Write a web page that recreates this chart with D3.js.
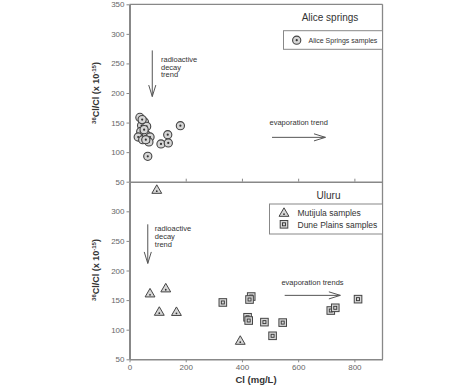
<!DOCTYPE html>
<html>
<head>
<meta charset="utf-8">
<script src="https://cdn.jsdelivr.net/npm/d3@7"></script>
<style>
  body { margin: 0; background: #fff; }
  svg { font-family: "Liberation Sans", Arial, sans-serif; }
  .axis text { font-size: 8px; fill: #666; }
  .axis path, .axis line { stroke: #888; }
</style>
</head>
<body>
<div id="chart"></div>
<script>
// Alice springs samples (Cl mg/L, 36Cl/Cl x 10^-15)
const aliceX = [37, 53, 43, 61, 40, 55, 31, 47, 61, 73, 69, 112, 136, 138, 181, 65, 45, 52, 58];
const aliceY = [158.7, 151, 145, 143.5, 135, 132.4, 125.6, 121, 128.3, 125.6, 117.2, 113.8, 129.5, 115.5, 144.7, 92.9, 155, 138, 121];

// Uluru samples
const mutijulaX = [97, 73, 129, 106, 167, 394];
const mutijulaY = [336, 161, 169.5, 130, 129.7, 81];
const duneX = [332, 433, 427, 420, 424, 480, 545, 509, 716, 732, 813];
const duneY = [146, 156, 151, 121, 115.5, 112.8, 112, 89.7, 132.4, 137, 151.6];

const xTicks = [0, 200, 400, 600, 800];
const yTicksTop = [50, 100, 150, 200, 250, 300, 350];
const yTicksBottom = [50, 100, 150, 200, 250, 300];

const WIDTH = 474, HEIGHT = 389;
const LEFT = 129.5, RIGHT = 382.5;
const TOP = 4.3, MID = 181.7, BOTTOM = 359.3;

const svg = d3.select("#chart").append("svg")
  .attr("width", WIDTH).attr("height", HEIGHT);

const X_SCALE = d3.scaleLinear().domain([0, 900]).range([LEFT, RIGHT]);
const Y_TOP = d3.scaleLinear().domain([50, 350]).range([MID, TOP]);
const Y_BOT = d3.scaleLinear().domain([50, 350]).range([BOTTOM, MID]);

const LINE = "#888";
const INK = "#333";

// frame: top and right borders
svg.append("line").attr("x1", LEFT).attr("x2", RIGHT).attr("y1", TOP).attr("y2", TOP)
  .attr("stroke", LINE).attr("stroke-width", 1.3);
svg.append("line").attr("x1", RIGHT).attr("x2", RIGHT).attr("y1", TOP).attr("y2", BOTTOM)
  .attr("stroke", LINE).attr("stroke-width", 1.3);

// y axes
function styleAxis(g) {
  g.attr("class", "axis");
  g.select(".domain").attr("stroke-width", 2);
}
svg.append("g").attr("transform", "translate(" + LEFT + ",0)")
  .call(d3.axisLeft(Y_TOP).tickValues(yTicksTop).tickSize(3).tickSizeOuter(0).tickPadding(2))
  .call(styleAxis);
svg.append("g").attr("transform", "translate(" + LEFT + ",0)")
  .call(d3.axisLeft(Y_BOT).tickValues(yTicksBottom).tickSize(3).tickSizeOuter(0).tickPadding(2))
  .call(styleAxis);

// middle axis: ticks pointing up into the top panel, no labels
svg.append("g").attr("transform", "translate(0," + MID + ")")
  .call(d3.axisTop(X_SCALE).tickValues(xTicks.slice(1)).tickSize(3).tickSizeOuter(0).tickFormat(""))
  .call(g => { g.attr("class", "axis"); g.select(".domain").attr("stroke-width", 1.5); });

// bottom x axis
svg.append("g").attr("transform", "translate(0," + BOTTOM + ")")
  .call(d3.axisBottom(X_SCALE).tickValues(xTicks).tickSize(3).tickSizeOuter(0).tickPadding(2))
  .call(g => { g.attr("class", "axis"); g.select(".domain").attr("stroke-width", 1.5); });

// axis titles
function yTitle(cy) {
  const t = svg.append("text")
    .attr("transform", "translate(99," + cy + ") rotate(-90)")
    .attr("text-anchor", "middle")
    .attr("font-size", "9px").attr("font-weight", "bold").attr("fill", INK);
  t.append("tspan").attr("font-size", "6px").attr("dy", "-3").text("36");
  t.append("tspan").attr("dy", "3").text("Cl/Cl (x 10");
  t.append("tspan").attr("font-size", "6px").attr("dy", "-3").text("-15");
  t.append("tspan").attr("dy", "3").text(")");
}
yTitle(93);
yTitle(270);

svg.append("text").attr("x", 256).attr("y", 383)
  .attr("text-anchor", "middle").attr("font-size", "9.5px").attr("font-weight", "bold")
  .attr("fill", INK).text("Cl (mg/L)");

// markers
function circleMark(g, x, y) {
  g.append("circle").attr("cx", x).attr("cy", y).attr("r", 4.1)
    .attr("fill", "#d6d6d6").attr("stroke", "#444").attr("stroke-width", 1.1);
  g.append("circle").attr("cx", x).attr("cy", y).attr("r", 1.1).attr("fill", "#333");
}
function triangleMark(g, x, y) {
  g.append("path").attr("d", d3.symbol(d3.symbolTriangle, 42)())
    .attr("transform", "translate(" + x + "," + (y + 0.5) + ")")
    .attr("fill", "#d6d6d6").attr("stroke", "#444").attr("stroke-width", 1);
  g.append("circle").attr("cx", x).attr("cy", y + 1.2).attr("r", 0.9).attr("fill", "#333");
}
function squareMark(g, x, y) {
  g.append("rect").attr("x", x - 3.8).attr("y", y - 3.8).attr("width", 7.6).attr("height", 7.6)
    .attr("fill", "#d6d6d6").attr("stroke", "#444").attr("stroke-width", 1);
  g.append("rect").attr("x", x - 1.5).attr("y", y - 1.5).attr("width", 3).attr("height", 3)
    .attr("fill", "none").attr("stroke", "#333").attr("stroke-width", 0.9);
}

const pts = svg.append("g");
aliceX.forEach((v, i) => circleMark(pts, X_SCALE(v), Y_TOP(aliceY[i])));
mutijulaX.forEach((v, i) => triangleMark(pts, X_SCALE(v), Y_BOT(mutijulaY[i])));
duneX.forEach((v, i) => squareMark(pts, X_SCALE(v), Y_BOT(duneY[i])));

// arrows with open heads
function arrow(x1, y1, x2, y2) {
  const g = svg.append("g").attr("stroke", "#555").attr("fill", "none").attr("stroke-width", 1);
  g.append("line").attr("x1", x1).attr("y1", y1).attr("x2", x2).attr("y2", y2);
  const ang = Math.atan2(y2 - y1, x2 - x1);
  const L = 12, W = 0.3;
  const p1 = [x2 - L * Math.cos(ang - W), y2 - L * Math.sin(ang - W)];
  const p2 = [x2 - L * Math.cos(ang + W), y2 - L * Math.sin(ang + W)];
  g.append("path").attr("d", "M" + p1 + "L" + [x2, y2] + "L" + p2);
}
function note(x, y, lines, size, anchor) {
  const t = svg.append("text").attr("x", x).attr("y", y)
    .attr("font-size", size).attr("fill", INK).attr("text-anchor", anchor || "start");
  lines.forEach((s, i) => t.append("tspan").attr("x", x).attr("dy", i ? "1.05em" : 0).text(s));
}

// top panel annotations
arrow(X_SCALE(81), Y_TOP(272), X_SCALE(81), Y_TOP(194));
note(X_SCALE(112), Y_TOP(253), ["radioactive", "decay", "trend"], "7.5px");
arrow(X_SCALE(507), Y_TOP(125), X_SCALE(697), Y_TOP(125));
note(X_SCALE(602), Y_TOP(146), ["evaporation trend"], "7.5px", "middle");

// bottom panel annotations
arrow(X_SCALE(65), Y_BOT(278), X_SCALE(65), Y_BOT(212));
note(X_SCALE(90), Y_BOT(267), ["radioactive", "decay", "trend"], "7.5px");
arrow(X_SCALE(552), Y_BOT(158), X_SCALE(750), Y_BOT(158));
note(X_SCALE(651), Y_BOT(175), ["evaporation trends"], "7.5px", "middle");

// panel titles
svg.append("text").attr("x", 330).attr("y", 21).attr("text-anchor", "middle")
  .attr("font-size", "10px").attr("fill", INK).text("Alice springs");
svg.append("text").attr("x", 328.5).attr("y", 198.5).attr("text-anchor", "middle")
  .attr("font-size", "10px").attr("fill", INK).text("Uluru");

// legends
svg.append("rect").attr("x", 283.5).attr("y", 30.7).attr("width", RIGHT - 283.5).attr("height", 18.6)
  .attr("fill", "#fff").attr("stroke", LINE).attr("stroke-width", 1);
circleMark(svg, 296.7, 40.2);
svg.append("text").attr("x", 308.5).attr("y", 42.8).attr("font-size", "7px").attr("fill", INK)
  .text("Alice Springs samples");

svg.append("rect").attr("x", 269.5).attr("y", 204).attr("width", RIGHT - 269.5).attr("height", 30)
  .attr("fill", "#fff").attr("stroke", LINE).attr("stroke-width", 1);
triangleMark(svg, 284, 213);
squareMark(svg, 284, 224.3);
svg.append("text").attr("x", 297.5).attr("y", 216.3).attr("font-size", "8.5px").attr("fill", INK)
  .text("Mutijula samples");
svg.append("text").attr("x", 297.5).attr("y", 227.5).attr("font-size", "8.5px").attr("fill", INK)
  .text("Dune Plains samples");
</script>
</body>
</html>
